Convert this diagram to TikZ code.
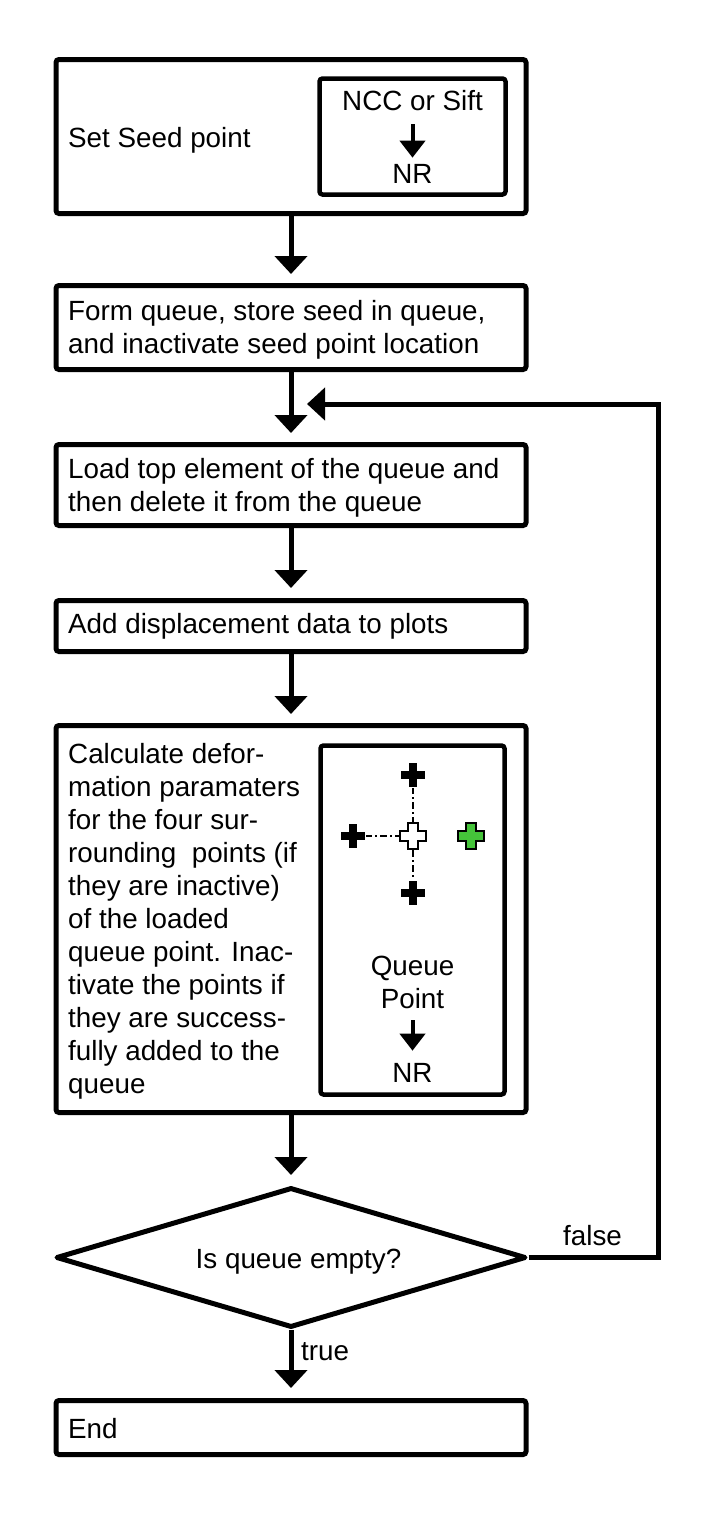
\documentclass[tikz,border=0pt]{standalone}
\usepackage{fontspec}
\setmainfont{Liberation Sans}
\usetikzlibrary{arrows.meta,shapes.geometric}
\definecolor{pgreen}{HTML}{45C43A}
\newcommand\fs{\fontsize{27.8}{33}\selectfont}
\begin{document}
\begin{tikzpicture}[x=1pt,y=-1pt,
 box/.style={draw, line width=5pt, rounded corners=3pt, inner sep=0pt, fill=white, minimum width=470pt},
 ibox/.style={draw, line width=4.5pt, rounded corners=3pt, inner sep=0pt},
 flow/.style={line width=5pt, -{Triangle[width=32pt,length=18pt]}, line join=miter},
 sflow/.style={line width=4pt, -{Triangle[width=25pt,length=17pt]}},
 lbl/.style={inner sep=0pt, font=\fs, anchor=base west},
 clbl/.style={inner sep=0pt, font=\fs, anchor=base},
 ptn/.style={inner sep=0pt, minimum size=24pt},
 dd/.style={line width=2.2pt, dash pattern=on 7pt off 3pt on 2pt off 3pt},
 plusm/.pic={\path[pic actions] (-4.5,-12.5)--(4.5,-12.5)--(4.5,-4.5)--(12.5,-4.5)--(12.5,4.5)--(4.5,4.5)--(4.5,12.5)--(-4.5,12.5)--(-4.5,4.5)--(-12.5,4.5)--(-12.5,-4.5)--(-4.5,-4.5)--cycle;},
 plusb/.pic={\path[pic actions] (-5,-13)--(5,-13)--(5,-5)--(13,-5)--(13,5)--(5,5)--(5,13)--(-5,13)--(-5,5)--(-13,5)--(-13,-5)--(-5,-5)--cycle;}
]
\fill[white] (0,0) rectangle (720,1513);
\useasboundingbox (0,0) rectangle (720,1513);

% boxes
\node[box, minimum height=154pt] (b1) at (291,136.5) {};
\node[box, minimum height=84pt] (b2) at (291,327.5) {};
\node[box, minimum height=81pt] (b3) at (291,485) {};
\node[box, minimum height=51pt] (b4) at (291,626) {};
\node[box, minimum height=387pt] (b5) at (291,919) {};
\node[draw, line width=5pt, diamond, minimum width=470pt, minimum height=140pt, inner sep=0pt, line join=round, fill=white] (dm) at (291,1257.5) {};
\node[box, minimum height=54pt] (be) at (291,1427.5) {};

% inner boxes
\node[ibox, minimum width=186pt, minimum height=116pt] (i1) at (412.5,136.5) {};
\node[ibox, minimum width=184pt, minimum height=349pt] (i5) at (412.5,920) {};

% texts
\node[lbl] (t1) at (68,147) {Set Seed point};
\node[clbl] (ncc) at (412.5,110) {NCC or Sift};
\node[clbl] (nr1) at (412.5,183) {NR};

\node[lbl] (t2a) at (68,320) {Form queue, store seed in queue,};
\node[lbl] (t2b) at (68,353) {and inactivate seed point location};

\node[lbl] (t3a) at (68,478) {Load top element of the queue and};
\node[lbl] (t3b) at (68,511) {then delete it from the queue};

\node[lbl] (t4) at (68,633) {Add displacement data to plots};

\foreach \t [count=\i] in {Calculate defor-, mation paramaters, for the four sur-, rounding~ points (if, they are inactive), of the loaded, queue point. Inac-, tivate the points if, they are success-, fully added to the, queue}
  \node[lbl] (t5\i) at (68,{763+33*(\i-1)}) {\t};

\node[clbl] (qq) at (412.5,975) {Queue};
\node[clbl] (qp) at (412.5,1008) {Point};
\node[clbl] (nr5) at (412.5,1082) {NR};

\node[clbl] (dq) at (298.5,1268) {Is queue empty?};
\node[lbl] (lf) at (563,1245) {false};
\node[lbl] (lt) at (301,1360) {true};
\node[lbl] (te) at (68,1438) {End};

% markers
\node[ptn] (pT) at (413,775) {};
\node[ptn] (pL) at (353,836) {};
\node[ptn, minimum size=28pt] (pC) at (413,836) {};
\node[ptn] (pB) at (413,893) {};
\node[ptn] (pG) at (471,836) {};
\draw[dd] (pT) -- (pC);
\draw[dd] (pL) -- (pC);
\draw[dd] (pC) -- (pB);
\pic[fill=black, draw=white, line width=1pt] at (pT) {plusm};
\pic[fill=black, draw=white, line width=1pt] at (pL) {plusm};
\pic[fill=black, draw=white, line width=1pt] at (pB) {plusm};
\pic[fill=white, draw=black, line width=1.8pt] at (pC) {plusb};
\pic[fill=pgreen, draw=black, line width=1.8pt] at (pG) {plusb};

% small arrows
\draw[sflow, shorten <=14pt, shorten >=6pt] (ncc.south) -- (nr1.north);
\draw[sflow, shorten <=12pt, shorten >=12pt] (qp.south) -- (nr5.north);

% main flow
\draw[flow, shorten >=9pt] (b1.south) -- (b2.north);
\draw[flow, shorten >=9pt] (b2.south) -- (b3.north);
\draw[flow, shorten >=10pt] (b3.south) -- (b4.north);
\draw[flow, shorten >=9pt] (b4.south) -- (b5.north);
\draw[flow, shorten >=10pt] (b5.south) -- (dm.north);
\draw[flow, shorten >=10pt] (dm.south) -- (be.north);

\coordinate (lc) at (658,404);
\coordinate (loopin) at (307,404);
\draw[flow] (dm.east) -| (lc) -- (loopin);
\end{tikzpicture}
\end{document}
